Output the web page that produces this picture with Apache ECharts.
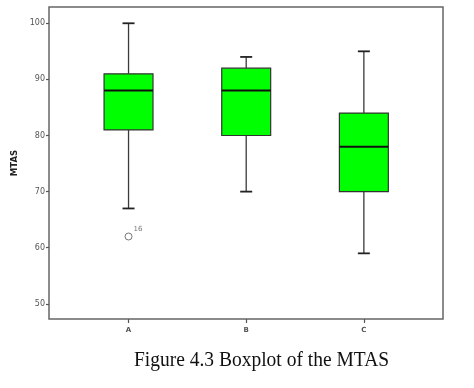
<!DOCTYPE html>
<html>
<head>
<meta charset="utf-8">
<script src="https://cdn.jsdelivr.net/npm/echarts@6/dist/echarts.min.js"></script>
<style>
  html, body { margin: 0; padding: 0; background: #fff; }
  #chart { width: 474px; height: 388px; }
</style>
</head>
<body>
<div id="chart"></div>
<script>
// groups and five-number summaries
const groups = ['A', 'B', 'C'];
const lowWhisker = [67, 70, 59];
const q1 = [81, 80, 70];
const median = [88, 88, 78];
const q3 = [91, 92, 84];
const highWhisker = [100, 94, 95];
// outliers: [group index, value, case label]
const outliers = [[0, 62, '16']];
const yTicks = [50, 60, 70, 80, 90, 100];

const boxData = groups.map((g, i) => [i, lowWhisker[i], q1[i], median[i], q3[i], highWhisker[i]]);

const chart = echarts.init(document.getElementById('chart'));

function renderBox(params, api) {
  const x = api.value(0);
  const pLow = api.coord([x, api.value(1)]);
  const pQ1 = api.coord([x, api.value(2)]);
  const pMed = api.coord([x, api.value(3)]);
  const pQ3 = api.coord([x, api.value(4)]);
  const pHigh = api.coord([x, api.value(5)]);
  const half = api.size([1, 0])[0] * 0.208;
  const cap = 6;
  const cx = pMed[0];
  const lineStyle = { stroke: '#3a3a3a', lineWidth: 1.3 };
  return {
    type: 'group',
    children: [
      { type: 'line', shape: { x1: cx, y1: pHigh[1], x2: cx, y2: pQ3[1] }, style: lineStyle },
      { type: 'line', shape: { x1: cx, y1: pLow[1], x2: cx, y2: pQ1[1] }, style: lineStyle },
      { type: 'line', shape: { x1: cx - cap, y1: pHigh[1], x2: cx + cap, y2: pHigh[1] }, style: { stroke: '#222', lineWidth: 1.8 } },
      { type: 'line', shape: { x1: cx - cap, y1: pLow[1], x2: cx + cap, y2: pLow[1] }, style: { stroke: '#222', lineWidth: 1.8 } },
      {
        type: 'rect',
        shape: { x: cx - half, y: pQ3[1], width: half * 2, height: pQ1[1] - pQ3[1] },
        style: { fill: '#00ff00', stroke: '#333', lineWidth: 1.2 }
      },
      { type: 'line', shape: { x1: cx - half, y1: pMed[1], x2: cx + half, y2: pMed[1] }, style: { stroke: '#111', lineWidth: 2 } }
    ]
  };
}

const option = {
  animation: false,
  backgroundColor: '#fff',
  grid: [
    { left: 49, top: 7, width: 394, height: 312, show: true, borderColor: '#666', borderWidth: 1.5, backgroundColor: 'transparent' },
    { left: 69.7, top: 7, width: 353, height: 312 }
  ],
  xAxis: [
    { gridIndex: 0, type: 'value', show: false },
    {
      gridIndex: 1,
      type: 'category',
      data: groups,
      axisLine: { show: false },
      axisTick: { show: true, alignWithLabel: true, length: 4, lineStyle: { color: '#555', width: 1.2 } },
      axisLabel: { color: '#555', fontSize: 7, fontWeight: 'bold', fontFamily: 'DejaVu Sans', margin: 8 },
      splitLine: { show: false }
    }
  ],
  yAxis: [
    {
      gridIndex: 0,
      type: 'value',
      min: 47.3,
      max: 102.9,
      name: 'MTAS',
      nameLocation: 'middle',
      nameRotate: 90,
      nameGap: 23,
      nameTextStyle: { color: '#222', fontSize: 8.5, fontWeight: 'bold', fontFamily: 'DejaVu Sans' },
      axisLine: { show: false },
      axisTick: { show: true, length: 3, customValues: yTicks, lineStyle: { color: '#555', width: 1.2 } },
      axisLabel: { color: '#555', fontSize: 8, fontFamily: 'DejaVu Sans', margin: 4, customValues: yTicks },
      splitLine: { show: false }
    },
    { gridIndex: 1, type: 'value', min: 47.3, max: 102.9, show: false }
  ],
  series: [
    {
      type: 'custom',
      xAxisIndex: 1,
      yAxisIndex: 1,
      renderItem: renderBox,
      encode: { x: 0, y: [1, 2, 3, 4, 5] },
      data: boxData
    },
    {
      type: 'scatter',
      xAxisIndex: 1,
      yAxisIndex: 1,
      symbol: 'circle',
      symbolSize: 7,
      itemStyle: { color: '#fff', borderColor: '#555', borderWidth: 1 },
      label: {
        show: true,
        position: [9, -7],
        formatter: p => p.data[2],
        color: '#555',
        fontSize: 7,
        fontFamily: 'DejaVu Sans'
      },
      data: outliers
    }
  ],
  graphic: [
    {
      type: 'text',
      x: 261.5,
      y: 360,
      scaleY: 1.1,
      style: {
        text: 'Figure 4.3 Boxplot of the MTAS',
        font: '19.5px "Liberation Serif"',
        fill: '#111',
        align: 'center',
        verticalAlign: 'middle'
      }
    }
  ]
};
chart.setOption(option);
</script>
</body>
</html>
